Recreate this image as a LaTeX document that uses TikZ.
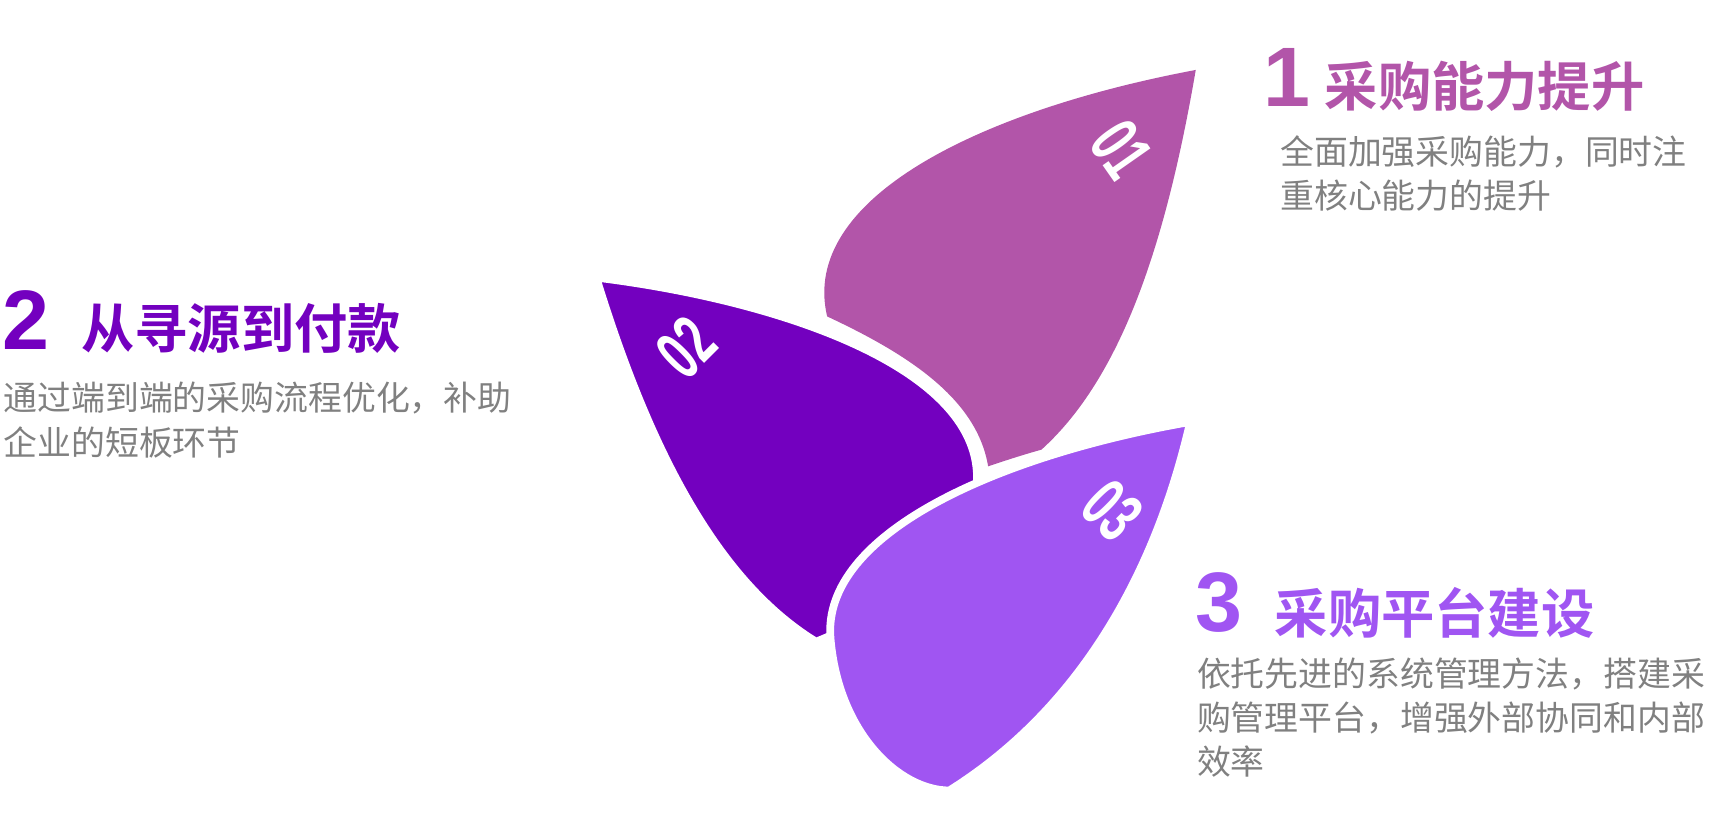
\documentclass[tikz,border=0pt]{standalone}
\usepackage{fontspec}
\setmainfont{Liberation Sans}
\newfontfamily\cjk{Noto Sans CJK SC}
\newfontfamily\cjkb{Noto Sans CJK SC Bold}
\definecolor{pA}{HTML}{B255A9}
\definecolor{pB}{HTML}{7300BF}
\definecolor{pC}{HTML}{A055F2}
\definecolor{tx}{HTML}{808080}
\newcommand{\petallab}[1]{\scalebox{0.62}[1]{\bfseries\fontsize{64}{64}\selectfont #1}}
\begin{document}
\begin{tikzpicture}[x=1pt,y=-1pt,
  petal/.style={draw=white,line width=7pt,line join=round},
  num/.style={font=\fontsize{76}{76}\selectfont\bfseries,anchor=west,inner sep=0},
  ttl/.style={font=\cjkb\fontsize{48}{48}\selectfont,anchor=west,inner sep=0},
  body/.style={font=\cjk\fontsize{30.5}{40}\selectfont,text=tx,anchor=north west,inner sep=0,align=left},
  lab/.style={text=white,inner sep=0}]
\useasboundingbox (0,0) rectangle (1560,739);
% petal 1
\fill[pA] (1077,63) .. controls (880,100) and (720,180) .. (745,285)
  .. controls (820,320) and (880,360) .. (890,420)
  .. controls (905,415) and (920,410) .. (938,405)
  .. controls (1010,340) and (1050,220) .. cycle;
% petal 2
\path[petal,fill=pB] (537,250) .. controls (700,270) and (880,330) .. (880,430)
  .. controls (880,510) and (780,560) .. (735,578)
  .. controls (640,520) and (580,390) .. cycle;
% petal 3
\path[petal,fill=pC] (1072,380) .. controls (900,410) and (740,480) .. (748,575)
  .. controls (755,660) and (810,712) .. (855,712)
  .. controls (970,640) and (1040,520) .. cycle;
\node[lab,rotate=-55] (l1) at (1010,135) {\petallab{01}};
\node[lab,rotate=45] (l2) at (618,313) {\petallab{02}};
\node[lab,rotate=-45] (l3) at (1002,460) {\petallab{03}};
% texts
\node[num,text=pA] (n1) at (1138,70) {1};
\node[ttl,text=pA] (t1) at (1193,78) {采购能力提升};
\node[body] (b1) at (1153,122) {全面加强采购能力，同时注\\重核心能力的提升};
\node[num,text=pB] (n2) at (2,288) {2};
\node[ttl,text=pB] (t2) at (73,296) {从寻源到付款};
\node[body] (b2) at (3,344) {通过端到端的采购流程优化，补助\\企业的短板环节};
\node[num,text=pC] (n3) at (1077,543) {3};
\node[ttl,text=pC] (t3) at (1148,552) {采购平台建设};
\node[body] (b3) at (1078,592) {依托先进的系统管理方法，搭建采\\购管理平台，增强外部协同和内部\\效率};
\end{tikzpicture}
\end{document}
